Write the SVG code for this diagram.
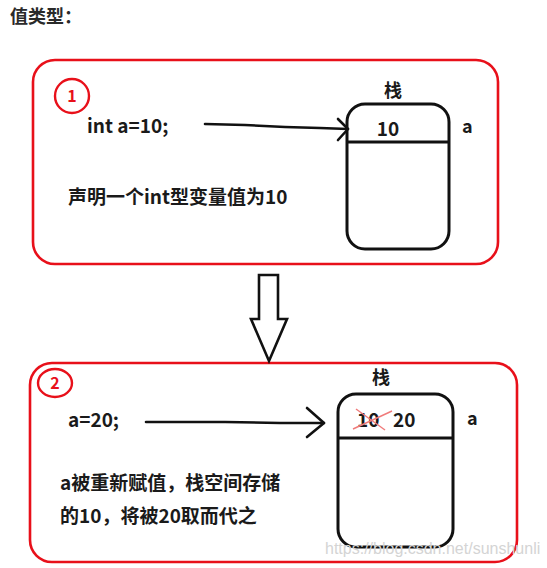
<svg xmlns="http://www.w3.org/2000/svg" width="547" height="568" viewBox="0 0 547 568">
<style>
.panel{fill:none;stroke:#e8101a;stroke-width:2.6}
.badge{fill:none;stroke:#e8101a;stroke-width:2.4}
.badgeNum{font-family:"Noto Sans CJK SC","Liberation Sans",sans-serif;font-weight:bold;font-size:16px;fill:#e8101a}
.stack{fill:#fff;stroke:#111;stroke-width:3}
.txt{font-family:"Noto Sans CJK SC","Liberation Sans",sans-serif;font-weight:bold;font-size:19px;fill:#1a1a1a}
.lbl{font-family:"Noto Sans CJK SC","Liberation Sans",sans-serif;font-weight:bold;font-size:18px;fill:#1a1a1a}
.conn{fill:none;stroke:#111;stroke-width:2.6;stroke-linecap:round;stroke-linejoin:round}
.cross{stroke:#f07a7a;stroke-width:1.4}
</style>
<rect width="547" height="568" fill="#fff"/>
<g id="title">
<text x="10" y="23" font-family="'Noto Sans CJK SC','Liberation Sans',sans-serif" font-weight="bold" font-size="18" fill="#2a2a2a">值类型：</text>
</g>
<g id="panel1">
<rect class="panel" x="33" y="60" width="465" height="204" rx="22"/>
<circle class="badge" cx="72" cy="96" r="17"/>
<text class="badgeNum" x="72" y="102" text-anchor="middle">1</text>
<text class="txt" x="87" y="133">int a=10;</text>
<text class="txt" x="68" y="204">声明一个int型变量值为10</text>
</g>
<g id="stack1">
<text class="lbl" x="393" y="97" text-anchor="middle">栈</text>
<rect class="stack" x="347" y="104" width="102" height="145" rx="18"/>
<line x1="347" y1="142" x2="449" y2="142" stroke="#111" stroke-width="3"/>
<text class="txt" x="388" y="136" text-anchor="middle">10</text>
<text class="lbl" x="462" y="133">a</text>
</g>
<g id="panel2">
<rect class="panel" x="30" y="363" width="487" height="199" rx="22"/>
<ellipse class="badge" cx="55" cy="383" rx="17" ry="14"/>
<text class="badgeNum" x="55" y="389" text-anchor="middle">2</text>
<text class="txt" x="68" y="427">a=20;</text>
<text class="txt" x="60" y="490">a被重新赋值，栈空间存储</text>
<text class="txt" x="60" y="523">的10，将被20取而代之</text>
</g>
<g id="stack2">
<text class="lbl" x="381" y="384" text-anchor="middle">栈</text>
<rect class="stack" x="338" y="394" width="115" height="153" rx="18"/>
<line x1="338" y1="438" x2="453" y2="438" stroke="#111" stroke-width="3"/>
<text class="txt" x="357" y="427">10</text>
<line class="cross" x1="356" y1="409" x2="385" y2="430"/>
<line class="cross" x1="392" y1="411" x2="353" y2="429"/>
<text class="txt" x="393" y="427">20</text>
<text class="lbl" x="467" y="425">a</text>
</g>
<g id="connectors">
<polyline class="conn" points="205,124 245,125 285,127 320,128 348,129"/>
<polyline class="conn" points="338,119 348,129 338,140"/>
<polyline class="conn" points="146,422 225,422 280,423 324,423"/>
<polyline class="conn" points="307,408 324,423 307,437"/>
<polygon points="259,275 278,275 278,319 287,319 269,361 251,319 259,319" fill="#fff" stroke="#111" stroke-width="2.6" stroke-linejoin="miter"/>
</g>
<g id="watermark">
<text x="325" y="554" font-family="'Liberation Sans',sans-serif" font-size="16" fill="#d4d4d4">https://blog.csdn.net/sunshunli</text>
</g>
</svg>
